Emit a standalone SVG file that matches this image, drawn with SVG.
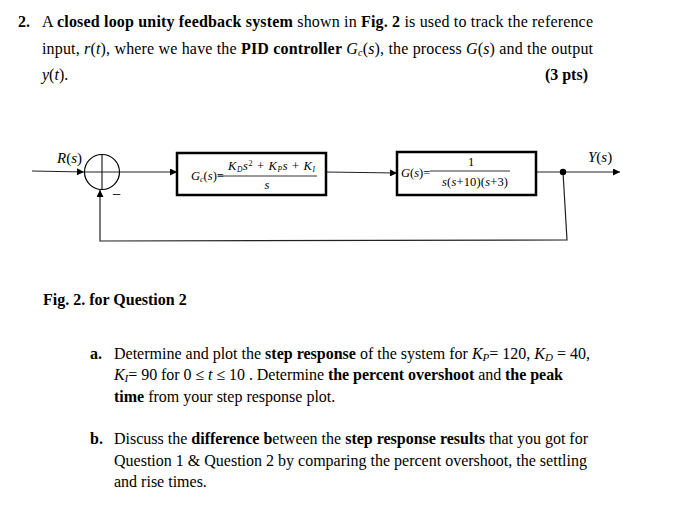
<svg xmlns="http://www.w3.org/2000/svg" width="677" height="518" viewBox="0 0 677 518">
<defs>
<style>
text{font-family:"Liberation Serif","Times New Roman",serif;fill:#000}
.t{font-size:16px}
.p{font-size:16px}
.b{font-weight:bold}
.i{font-style:italic}
.eq{font-size:12.5px;font-style:italic}
.lbl{font-size:15px}
.box{fill:#fff;stroke:#000;stroke-width:2.5}
.ln{fill:none;stroke:#222;stroke-width:1.2}
</style>
<marker id="ah" viewBox="0 0 10 10" refX="10" refY="5" markerWidth="9" markerHeight="7" markerUnits="userSpaceOnUse" orient="auto">
<path d="M0,0 L10,5 L0,10 z" fill="#000"/>
</marker>
</defs>
<rect width="677" height="518" fill="#fff"/>

<g id="question">
<text class="t b" x="18" y="27">2.</text>
<text class="t" x="42" y="27" textLength="551" lengthAdjust="spacing">A <tspan class="b">closed loop unity feedback system</tspan> shown in <tspan class="b">Fig. 2</tspan> is used to track the reference</text>
<text class="t" x="42" y="54" textLength="551" lengthAdjust="spacing">input, <tspan class="i">r</tspan>(<tspan class="i">t</tspan>), where we have the <tspan class="b">PID controller</tspan> <tspan class="i">G</tspan><tspan class="i" font-size="10" dy="2">c</tspan><tspan dy="-2">(</tspan><tspan class="i">s</tspan>), the process <tspan class="i">G</tspan>(<tspan class="i">s</tspan>) and the output</text>
<text class="t" x="42" y="80"><tspan class="i">y</tspan>(<tspan class="i">t</tspan>).</text>
<text class="t b" x="588" y="80" text-anchor="end">(3 pts)</text>
</g>

<g id="connectors">
<line class="ln" x1="32" y1="171" x2="84" y2="172" marker-end="url(#ah)"/>
<line class="ln" x1="119.5" y1="172" x2="177" y2="172" marker-end="url(#ah)"/>
<line class="ln" x1="326" y1="172" x2="397" y2="173" marker-end="url(#ah)"/>
<line class="ln" x1="536" y1="172" x2="620" y2="172" marker-end="url(#ah)"/>
<polyline class="ln" points="563,172 567,240 100,241 100,190" marker-end="url(#ah)"/>
<circle cx="563" cy="172" r="3.2" fill="#000"/>
</g>

<g id="sum">
<circle cx="102" cy="172" r="17.5" fill="none" stroke="#000" stroke-width="1.2"/>
<line class="ln" x1="84.5" y1="172" x2="119.5" y2="172"/>
<line class="ln" x1="102" y1="154.5" x2="102" y2="189.5"/>
<text class="t" x="112" y="200">−</text>
</g>

<g id="input-label">
<text class="lbl" x="57" y="163"><tspan class="i">R</tspan>(<tspan class="i">s</tspan>)</text>
</g>

<g id="output-label">
<text class="lbl" x="588" y="162"><tspan class="i">Y</tspan>(<tspan class="i">s</tspan>)</text>
</g>

<g id="gc-block">
<rect class="box" x="177" y="153" width="149" height="42"/>
<text class="eq" x="191" y="180">G<tspan font-size="8" dy="2">c</tspan><tspan dy="-2" font-style="normal">(</tspan>s<tspan font-style="normal">)=</tspan></text>
<line x1="218" y1="176" x2="317" y2="176" stroke="#000" stroke-width="0.8"/>
<text class="eq" x="228" y="170" textLength="87" lengthAdjust="spacing">K<tspan font-size="7.5" dy="2">D</tspan><tspan dy="-2">s</tspan><tspan font-size="8" dy="-4" font-style="normal">2</tspan><tspan dy="4" font-style="normal"> + </tspan>K<tspan font-size="7.5" dy="2">P</tspan><tspan dy="-2">s</tspan><tspan font-style="normal"> + </tspan>K<tspan font-size="7.5" dy="2">I</tspan></text>
<text class="eq" x="267" y="189" text-anchor="middle">s</text>
</g>

<g id="g-block">
<rect class="box" x="397" y="152" width="139" height="43"/>
<text class="eq" x="401" y="177">G<tspan font-style="normal">(</tspan>s<tspan font-style="normal">)=</tspan></text>
<line x1="430" y1="171" x2="510" y2="171" stroke="#000" stroke-width="0.8"/>
<text x="471" y="166" font-size="12.5" text-anchor="middle">1</text>
<text class="eq" x="475" y="186" text-anchor="middle" textLength="66" lengthAdjust="spacing">s<tspan font-style="normal">(</tspan>s<tspan font-style="normal">+10)(</tspan>s<tspan font-style="normal">+3)</tspan></text>
</g>

<g id="caption">
<text class="t b" x="43" y="305">Fig. 2. for Question 2</text>
</g>

<g id="part-a">
<text class="p b" x="90" y="359">a.</text>
<text class="p" x="114" y="359" textLength="476" lengthAdjust="spacing">Determine and plot the <tspan class="b">step response</tspan> of the system for <tspan class="i">K</tspan><tspan class="i" font-size="11" dy="2">P</tspan><tspan dy="-2">= 120, </tspan><tspan class="i">K</tspan><tspan class="i" font-size="11" dy="2">D</tspan><tspan dy="-2"> = 40,</tspan></text>
<text class="p" x="114" y="380" textLength="449" lengthAdjust="spacing"><tspan class="i">K</tspan><tspan class="i" font-size="11" dy="2">I</tspan><tspan dy="-2">= 90 for  0 ≤ </tspan><tspan class="i">t</tspan> ≤ 10 . Determine <tspan class="b">the percent overshoot</tspan> and <tspan class="b">the peak</tspan></text>
<text class="p" x="114" y="402"><tspan class="b">time</tspan> from your step response plot.</text>
</g>

<g id="part-b">
<text class="p b" x="90" y="444">b.</text>
<text class="p" x="114" y="444" textLength="474" lengthAdjust="spacing">Discuss the <tspan class="b">difference b</tspan>etween the <tspan class="b">step response results</tspan> that you got for</text>
<text class="p" x="114" y="466" textLength="473" lengthAdjust="spacing">Question 1 &amp; Question 2 by comparing the percent overshoot, the settling</text>
<text class="p" x="114" y="487">and rise times.</text>
</g>
</svg>
